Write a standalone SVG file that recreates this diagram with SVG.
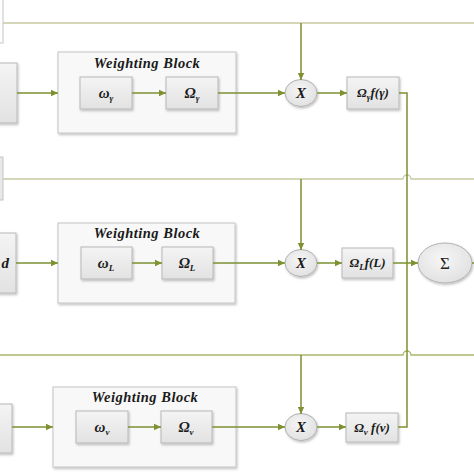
<svg xmlns="http://www.w3.org/2000/svg" width="474" height="474" viewBox="0 0 474 474">
<defs>
<linearGradient id="gbox" x1="0" y1="0" x2="0" y2="1">
<stop offset="0" stop-color="#f4f4f4"/>
<stop offset="1" stop-color="#e2e2e2"/>
</linearGradient>
<radialGradient id="gcirc" cx="0.45" cy="0.4" r="0.7">
<stop offset="0" stop-color="#f6f6f6"/>
<stop offset="1" stop-color="#dedede"/>
</radialGradient>
<filter id="sh" x="-20%" y="-20%" width="140%" height="140%">
<feDropShadow dx="1" dy="1.5" stdDeviation="1" flood-color="#000" flood-opacity="0.25"/>
</filter>
<marker id="ar" markerWidth="8" markerHeight="8" refX="7" refY="4" orient="auto" markerUnits="userSpaceOnUse">
<path d="M0,0.8 L7,4 L0,7.2 Z" fill="#7d9130"/>
</marker>
</defs>
<style>
.blk{fill:#f8f8f8;stroke:#c4c4c4;stroke-width:1;filter:url(#sh)}
.box{fill:url(#gbox);stroke:#b8b8b8;stroke-width:1;filter:url(#sh)}
.circ{fill:url(#gcirc);stroke:#b0b0b0;stroke-width:1;filter:url(#sh)}
.ttl{font-family:"Liberation Serif",serif;font-style:italic;font-weight:bold;font-size:14.5px;fill:#1a1a1a;text-anchor:middle;letter-spacing:0.5px}
.lbl{font-family:"Liberation Serif",serif;font-style:italic;font-weight:bold;font-size:15px;fill:#1a1a1a;text-anchor:middle}
.sub{font-size:9px}
.c{fill:none;stroke:#7d9130;stroke-width:1.5}
.ca{fill:none;stroke:#7d9130;stroke-width:1.5;marker-end:url(#ar)}
.feed{fill:none;stroke:#c9c9a2;stroke-width:1.3}
.feed3{fill:none;stroke:#a9b76e;stroke-width:1.3}
</style>

<g id="input-top-1"><rect x="-10" y="-5" width="13" height="48" fill="#fdfdfd" stroke="#c4c4c4"/></g>
<g id="input-top-2"><rect x="-10" y="157" width="13" height="43" fill="#e8e8e8" stroke="#c4c4c4"/></g>
<g id="input-1"><rect class="box" x="-10" y="63" width="27" height="60"/></g>
<g id="input-2"><rect class="box" x="-10" y="233" width="26" height="60"/><text class="lbl" x="9" y="268" style="text-anchor:end">d</text></g>
<g id="input-3"><rect class="box" x="-10" y="404" width="22" height="49"/></g>

<g id="wb-1">
<rect class="blk" x="58" y="52" width="178" height="81"/>
<text class="ttl" x="147" y="68">Weighting Block</text>
</g>
<g id="omega-1"><rect class="box" x="80" y="77" width="52" height="32"/><text class="lbl" x="106" y="98">ω<tspan class="sub" dy="3">γ</tspan></text></g>
<g id="Omega-1"><rect class="box" x="166" y="77" width="52" height="32"/><text class="lbl" x="192" y="98">Ω<tspan class="sub" dy="3">γ</tspan></text></g>

<g id="wb-2">
<rect class="blk" x="58" y="223" width="177" height="80"/>
<text class="ttl" x="147" y="238">Weighting Block</text>
</g>
<g id="omega-2"><rect class="box" x="81" y="247" width="51" height="32"/><text class="lbl" x="106" y="268">ω<tspan class="sub" dy="3">L</tspan></text></g>
<g id="Omega-2"><rect class="box" x="162" y="247" width="51" height="32"/><text class="lbl" x="187" y="268">Ω<tspan class="sub" dy="3">L</tspan></text></g>

<g id="wb-3">
<rect class="blk" x="53" y="387" width="183" height="80"/>
<text class="ttl" x="145" y="402">Weighting Block</text>
</g>
<g id="omega-3"><rect class="box" x="76" y="411" width="52" height="32"/><text class="lbl" x="102" y="432">ω<tspan class="sub" dy="3">v</tspan></text></g>
<g id="Omega-3"><rect class="box" x="161" y="411" width="51" height="32"/><text class="lbl" x="186" y="432">Ω<tspan class="sub" dy="3">v</tspan></text></g>

<g id="mult-1"><ellipse class="circ" cx="301" cy="93" rx="16" ry="13.5"/><text class="lbl" x="301" y="98">X</text></g>
<g id="mult-2"><ellipse class="circ" cx="301" cy="263" rx="16" ry="13.5"/><text class="lbl" x="301" y="268">X</text></g>
<g id="mult-3"><ellipse class="circ" cx="301" cy="427" rx="16" ry="13.5"/><text class="lbl" x="301" y="432">X</text></g>

<g id="out-1"><rect class="box" x="347" y="77" width="52" height="32"/><text class="lbl" x="373" y="97" style="font-size:13px">Ω<tspan class="sub" dy="3">γ</tspan><tspan dy="-3">f(γ)</tspan></text></g>
<g id="out-2"><rect class="box" x="342" y="248" width="51" height="30"/><text class="lbl" x="367.5" y="267" style="font-size:13px">Ω<tspan class="sub" dy="3">L</tspan><tspan dy="-3">f(L)</tspan></text></g>
<g id="out-3"><rect class="box" x="346" y="413" width="52" height="29"/><text class="lbl" x="372" y="432" style="font-size:13px">Ω<tspan class="sub" dy="3">v</tspan><tspan dy="-3"> f(v)</tspan></text></g>

<g id="sum"><ellipse class="circ" cx="445" cy="263" rx="27" ry="20"/><text x="445" y="269" style="font-family:'Liberation Serif',serif;font-size:17px;fill:#222;text-anchor:middle">Σ</text></g>

<g id="connectors">
<path class="feed" d="M3,23 H474"/>
<path class="feed" d="M3,179 H403 A4,4 0 0,1 411,179 H474"/>
<path class="feed3" d="M0,355 H403 A4,4 0 0,1 411,355 H474"/>
<path class="ca" d="M17,93 H58"/>
<path class="ca" d="M132,93 H166"/>
<path class="ca" d="M218,93 H285"/>
<path class="ca" d="M301,23 V80"/>
<path class="ca" d="M317,93 H347"/>
<path class="c" d="M399,93 H407 V427 H398"/>
<path class="ca" d="M16,263 H58"/>
<path class="ca" d="M132,263 H162"/>
<path class="ca" d="M213,263 H285"/>
<path class="ca" d="M301,179 V250"/>
<path class="ca" d="M317,263 H342"/>
<path class="ca" d="M393,263 H418"/>
<path class="c" d="M472,263 H474"/>
<path class="ca" d="M12,427 H53"/>
<path class="ca" d="M128,427 H161"/>
<path class="ca" d="M212,427 H285"/>
<path class="ca" d="M301,355 V414"/>
<path class="ca" d="M317,427 H346"/>
</g>
</svg>
